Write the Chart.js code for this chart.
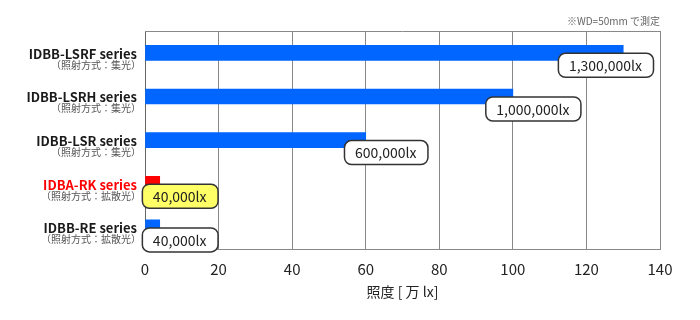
<!DOCTYPE html>
<html><head><meta charset="utf-8">
<script src="https://cdn.jsdelivr.net/npm/chart.js@4/dist/chart.umd.min.js"></script>
<style>html,body{margin:0;padding:0;background:#fff}#wrap{width:700px;height:320px}</style>
</head><body><div id="wrap"><canvas id="c" width="700" height="320"></canvas></div>
<script>
const categories = ['IDBB-LSRF series','IDBB-LSRH series','IDBB-LSR series','IDBA-RK series','IDBB-RE series'];
const subtitles = ['（照射方式：集光）','（照射方式：集光）','（照射方式：集光）','（照射方式：拡散光）','（照射方式：拡散光）'];
const values = [130, 100, 60, 4, 4];
const valueLabels = ['1,300,000lx','1,000,000lx','600,000lx','40,000lx','40,000lx'];
const barColors = ['#0066ff','#0066ff','#0066ff','#ff0000','#0066ff'];
const labelColors = ['#1a1a1a','#1a1a1a','#1a1a1a','#ff0000','#1a1a1a'];
const boxFills = ['#fff','#fff','#fff','#ffff66','#fff'];
const xTicks = [0,20,40,60,80,100,120,140];
const FONT = '"Noto Sans CJK JP","Noto Sans",sans-serif';

const overlay = {
  id:'overlay',
  afterDatasetsDraw(chart){
    const ctx = chart.ctx, ca = chart.chartArea;
    const ys = chart.scales.y, xs = chart.scales.x;
    ctx.save();
    ctx.strokeStyle='#888'; ctx.lineWidth=1;
    ctx.beginPath(); ctx.moveTo(ca.left, ca.top+0.5); ctx.lineTo(ca.right, ca.top+0.5); ctx.stroke();
    categories.forEach((c,i)=>{
      const y = ys.getPixelForValue(i);
      ctx.textAlign='right'; ctx.textBaseline='middle';
      ctx.fillStyle=labelColors[i];
      ctx.font='bold 13px '+FONT;
      ctx.fillText(c, ca.left-8, y+1);
      ctx.fillStyle='#555';
      ctx.font='10px '+FONT;
      ctx.fillText(subtitles[i], ca.left-4, y+12);
    });
    ctx.font='14px '+FONT;
    values.forEach((v,i)=>{
      const y = ys.getPixelForValue(i);
      const end = xs.getPixelForValue(v);
      const w = ctx.measureText(valueLabels[i]).width + 22;
      const h = 24;
      let cx = end + 20;
      if (cx + w/2 > ca.right - 7) cx = ca.right - 7 - w/2;
      const x0 = cx - w/2, y0 = y;
      ctx.beginPath();
      ctx.roundRect(x0+0.5, y0+0.5, w, h, 7);
      ctx.fillStyle=boxFills[i]; ctx.fill();
      ctx.strokeStyle='#333'; ctx.lineWidth=1.5; ctx.stroke();
      ctx.fillStyle='#222'; ctx.textAlign='center'; ctx.textBaseline='middle';
      ctx.fillText(valueLabels[i], cx, y0 + h/2 + 1);
    });
    ctx.font='10px '+FONT; ctx.fillStyle='#666'; ctx.textAlign='right'; ctx.textBaseline='alphabetic';
    ctx.fillText('※WD=50mm で測定', ca.right, ca.top-6);
    ctx.restore();
  }
};

new Chart(document.getElementById('c'), {
  type:'bar',
  data:{ labels:categories, datasets:[{ data:values, backgroundColor:barColors, barThickness:15, borderWidth:0 }]},
  options:{
    indexAxis:'y', responsive:false, animation:false,
    layout:{ padding:{ left:145, right:40, top:31, bottom:20 } },
    plugins:{ legend:{display:false}, tooltip:{enabled:false} },
    scales:{
      x:{ min:0, max:140, afterBuildTicks(s){ s.ticks = xTicks.map(v=>({value:v})); },
          grid:{ color:'#888', drawTicks:false, lineWidth:1 },
          border:{ color:'#888' },
          ticks:{ color:'#222', font:{ size:15, family:FONT }, padding:11 },
          title:{ display:true, text:'照度 [ 万 lx]', color:'#222', font:{ size:14, family:FONT }, padding:{top:-6,bottom:0} } },
      y:{ grid:{ display:false, drawTicks:false }, border:{ color:'#666', width:1 }, ticks:{ display:false } }
    }
  },
  plugins:[overlay]
});
</script></body></html>
